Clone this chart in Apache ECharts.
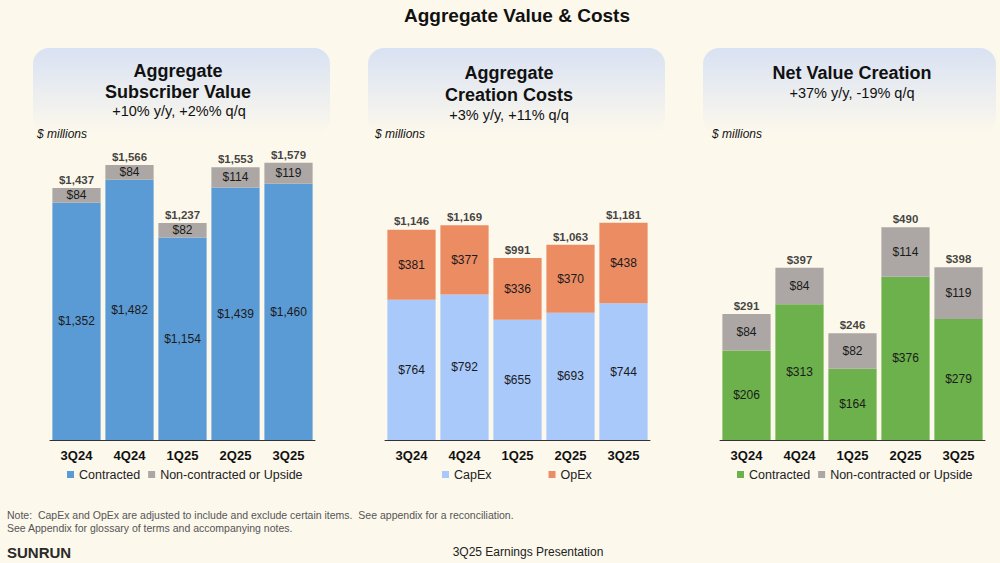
<!DOCTYPE html>
<html>
<head>
    <meta charset="utf-8">
    <title>Aggregate Value & Costs</title>
    <script src="https://cdn.jsdelivr.net/npm/echarts@6/dist/echarts.min.js"></script>
    <style>
        html, body { margin: 0; padding: 0; background: #fcf8ec; }
        #chart { width: 1000px; height: 563px; }
    </style>
</head>
<body>
<div id="chart"></div>
<script type="text/javascript">
    // values ($ millions)
    var quarters = ['3Q24', '4Q24', '1Q25', '2Q25', '3Q25'];
    var subContracted = [1352, 1482, 1154, 1439, 1460];
    var subUpside = [84, 84, 82, 114, 119];
    var subTotal = [1437, 1566, 1237, 1553, 1579];
    var capex = [764, 792, 655, 693, 744];
    var opex = [381, 377, 336, 370, 438];
    var costTotal = [1146, 1169, 991, 1063, 1181];
    var netContracted = [206, 313, 164, 376, 279];
    var netUpside = [84, 84, 82, 114, 119];
    var netTotal = [291, 397, 246, 490, 398];

    var FONT = '"Liberation Sans", Arial, sans-serif';
    var BLUE = '#5b9bd5', GREY = '#aca7a4', LIGHTBLUE = '#a8c9fa', ORANGE = '#ec8c63', GREEN = '#6cb14b';

    function money(v) {
        return '$' + Number(v).toLocaleString('en-US');
    }

    var myChart = echarts.init(document.getElementById('chart'), null, { renderer: 'svg' });

    var gridLefts = [50, 385, 720];
    var yMax = [1800, 1720, 728];

    function stackBar(name, data, color, idx) {
        return {
            name: name,
            type: 'bar',
            stack: 'p' + idx,
            xAxisIndex: idx,
            yAxisIndex: idx,
            barCategoryGap: '9%',
            itemStyle: { color: color },
            label: {
                show: true,
                position: 'inside',
                color: '#1a1a1a',
                fontFamily: FONT,
                fontSize: 12,
                formatter: function (p) { return money(p.value); }
            },
            data: data
        };
    }

    function totals(data, idx) {
        return {
            type: 'scatter',
            xAxisIndex: idx,
            yAxisIndex: idx,
            symbolSize: 0,
            silent: true,
            label: {
                show: true,
                position: 'top',
                distance: 2,
                color: '#111',
                fontFamily: FONT,
                fontWeight: 'bold',
                fontSize: 11.5,
                formatter: function (p) { return money(p.value); }
            },
            data: data
        };
    }

    // header boxes with a soft blue fade
    function headerBox(x, w) {
        return {
            type: 'rect',
            left: x, top: 48, z: -10,
            shape: { width: w, height: 86, r: 16 },
            style: {
                fill: new echarts.graphic.LinearGradient(0, 0, 0, 1, [
                    { offset: 0, color: '#d9e2f3' },
                    { offset: 1, color: '#fcf8ec' }
                ])
            }
        };
    }

    function txt(x, y, s, size, bold, opts) {
        var o = {
            type: 'text',
            x: x, y: y,
            style: {
                text: s,
                fill: '#111',
                font: (bold ? 'bold ' : '') + size + 'px ' + FONT,
                textAlign: 'center',
                textVerticalAlign: 'middle'
            }
        };
        if (opts) { for (var k in opts) o.style[k] = opts[k]; }
        return o;
    }

    var graphics = [
        headerBox(33, 297), headerBox(368, 297), headerBox(703, 293),
        txt(517, 15, 'Aggregate Value & Costs', 19, true),
        txt(178, 71, 'Aggregate', 18, true),
        txt(178, 92, 'Subscriber Value', 18, true),
        txt(179, 111, '+10% y/y, +2%% q/q', 14.5, false),
        txt(509, 73, 'Aggregate', 18, true),
        txt(509, 95, 'Creation Costs', 18, true),
        txt(509, 115, '+3% y/y, +11% q/q', 14.5, false),
        txt(852, 73, 'Net Value Creation', 18, true),
        txt(852, 93, '+37% y/y, -19% q/q', 14.5, false),
        txt(37, 134, '$ millions', 12, false, { textAlign: 'left', font: 'italic 12px ' + FONT }),
        txt(375, 134, '$ millions', 12, false, { textAlign: 'left', font: 'italic 12px ' + FONT }),
        txt(712, 134, '$ millions', 12, false, { textAlign: 'left', font: 'italic 12px ' + FONT }),
        txt(7, 515, 'Note:  CapEx and OpEx are adjusted to include and exclude certain items.  See appendix for a reconciliation.', 10.5, false, { textAlign: 'left', fill: '#555' }),
        txt(7, 528, 'See Appendix for glossary of terms and accompanying notes.', 10.5, false, { textAlign: 'left', fill: '#555' }),
        txt(7, 552, 'SUNRUN', 15, true, { textAlign: 'left', fill: '#2a2a2a' }),
        txt(528, 552, '3Q25 Earnings Presentation', 12, false, { fill: '#222' })
    ];

    var grids = [], xAxes = [], yAxes = [];
    for (var i = 0; i < 3; i++) {
        grids.push({ left: gridLefts[i], width: 265, top: 124, bottom: 123 });
        xAxes.push({
            type: 'category',
            gridIndex: i,
            data: quarters,
            axisTick: { show: false },
            axisLine: { lineStyle: { color: '#333', width: 1 } },
            axisLabel: { color: '#111', fontFamily: FONT, fontWeight: 'bold', fontSize: 13, margin: 9 }
        });
        yAxes.push({ type: 'value', gridIndex: i, min: 0, max: yMax[i], show: false, splitLine: { show: false } });
    }

    var legendText = { color: '#222', fontFamily: FONT, fontSize: 12.5 };

    myChart.setOption({
        backgroundColor: '#fcf8ec',
        animation: false,
        graphic: graphics,
        grid: grids,
        xAxis: xAxes,
        yAxis: yAxes,
        legend: [
            {
                left: 62, top: 463, icon: 'rect', itemWidth: 7, itemHeight: 7, itemGap: 8,
                textStyle: legendText,
                data: [
                    { name: 'Contracted', itemStyle: { color: BLUE } },
                    { name: 'Non-contracted or Upside', itemStyle: { color: GREY } }
                ]
            },
            {
                left: 437, top: 463, icon: 'rect', itemWidth: 7, itemHeight: 7, itemGap: 57,
                textStyle: legendText,
                data: ['CapEx', 'OpEx']
            },
            {
                left: 732, top: 463, icon: 'rect', itemWidth: 7, itemHeight: 7, itemGap: 8,
                textStyle: legendText,
                data: [
                    { name: 'Contracted', itemStyle: { color: GREEN } },
                    { name: 'Non-contracted or Upside', itemStyle: { color: GREY } }
                ]
            }
        ],
        series: [
            stackBar('Contracted', subContracted, BLUE, 0),
            stackBar('Non-contracted or Upside', subUpside, GREY, 0),
            totals(subTotal, 0),
            stackBar('CapEx', capex, LIGHTBLUE, 1),
            stackBar('OpEx', opex, ORANGE, 1),
            totals(costTotal, 1),
            stackBar('Contracted', netContracted, GREEN, 2),
            stackBar('Non-contracted or Upside', netUpside, GREY, 2),
            totals(netTotal, 2)
        ]
    });
</script>
</body>
</html>
